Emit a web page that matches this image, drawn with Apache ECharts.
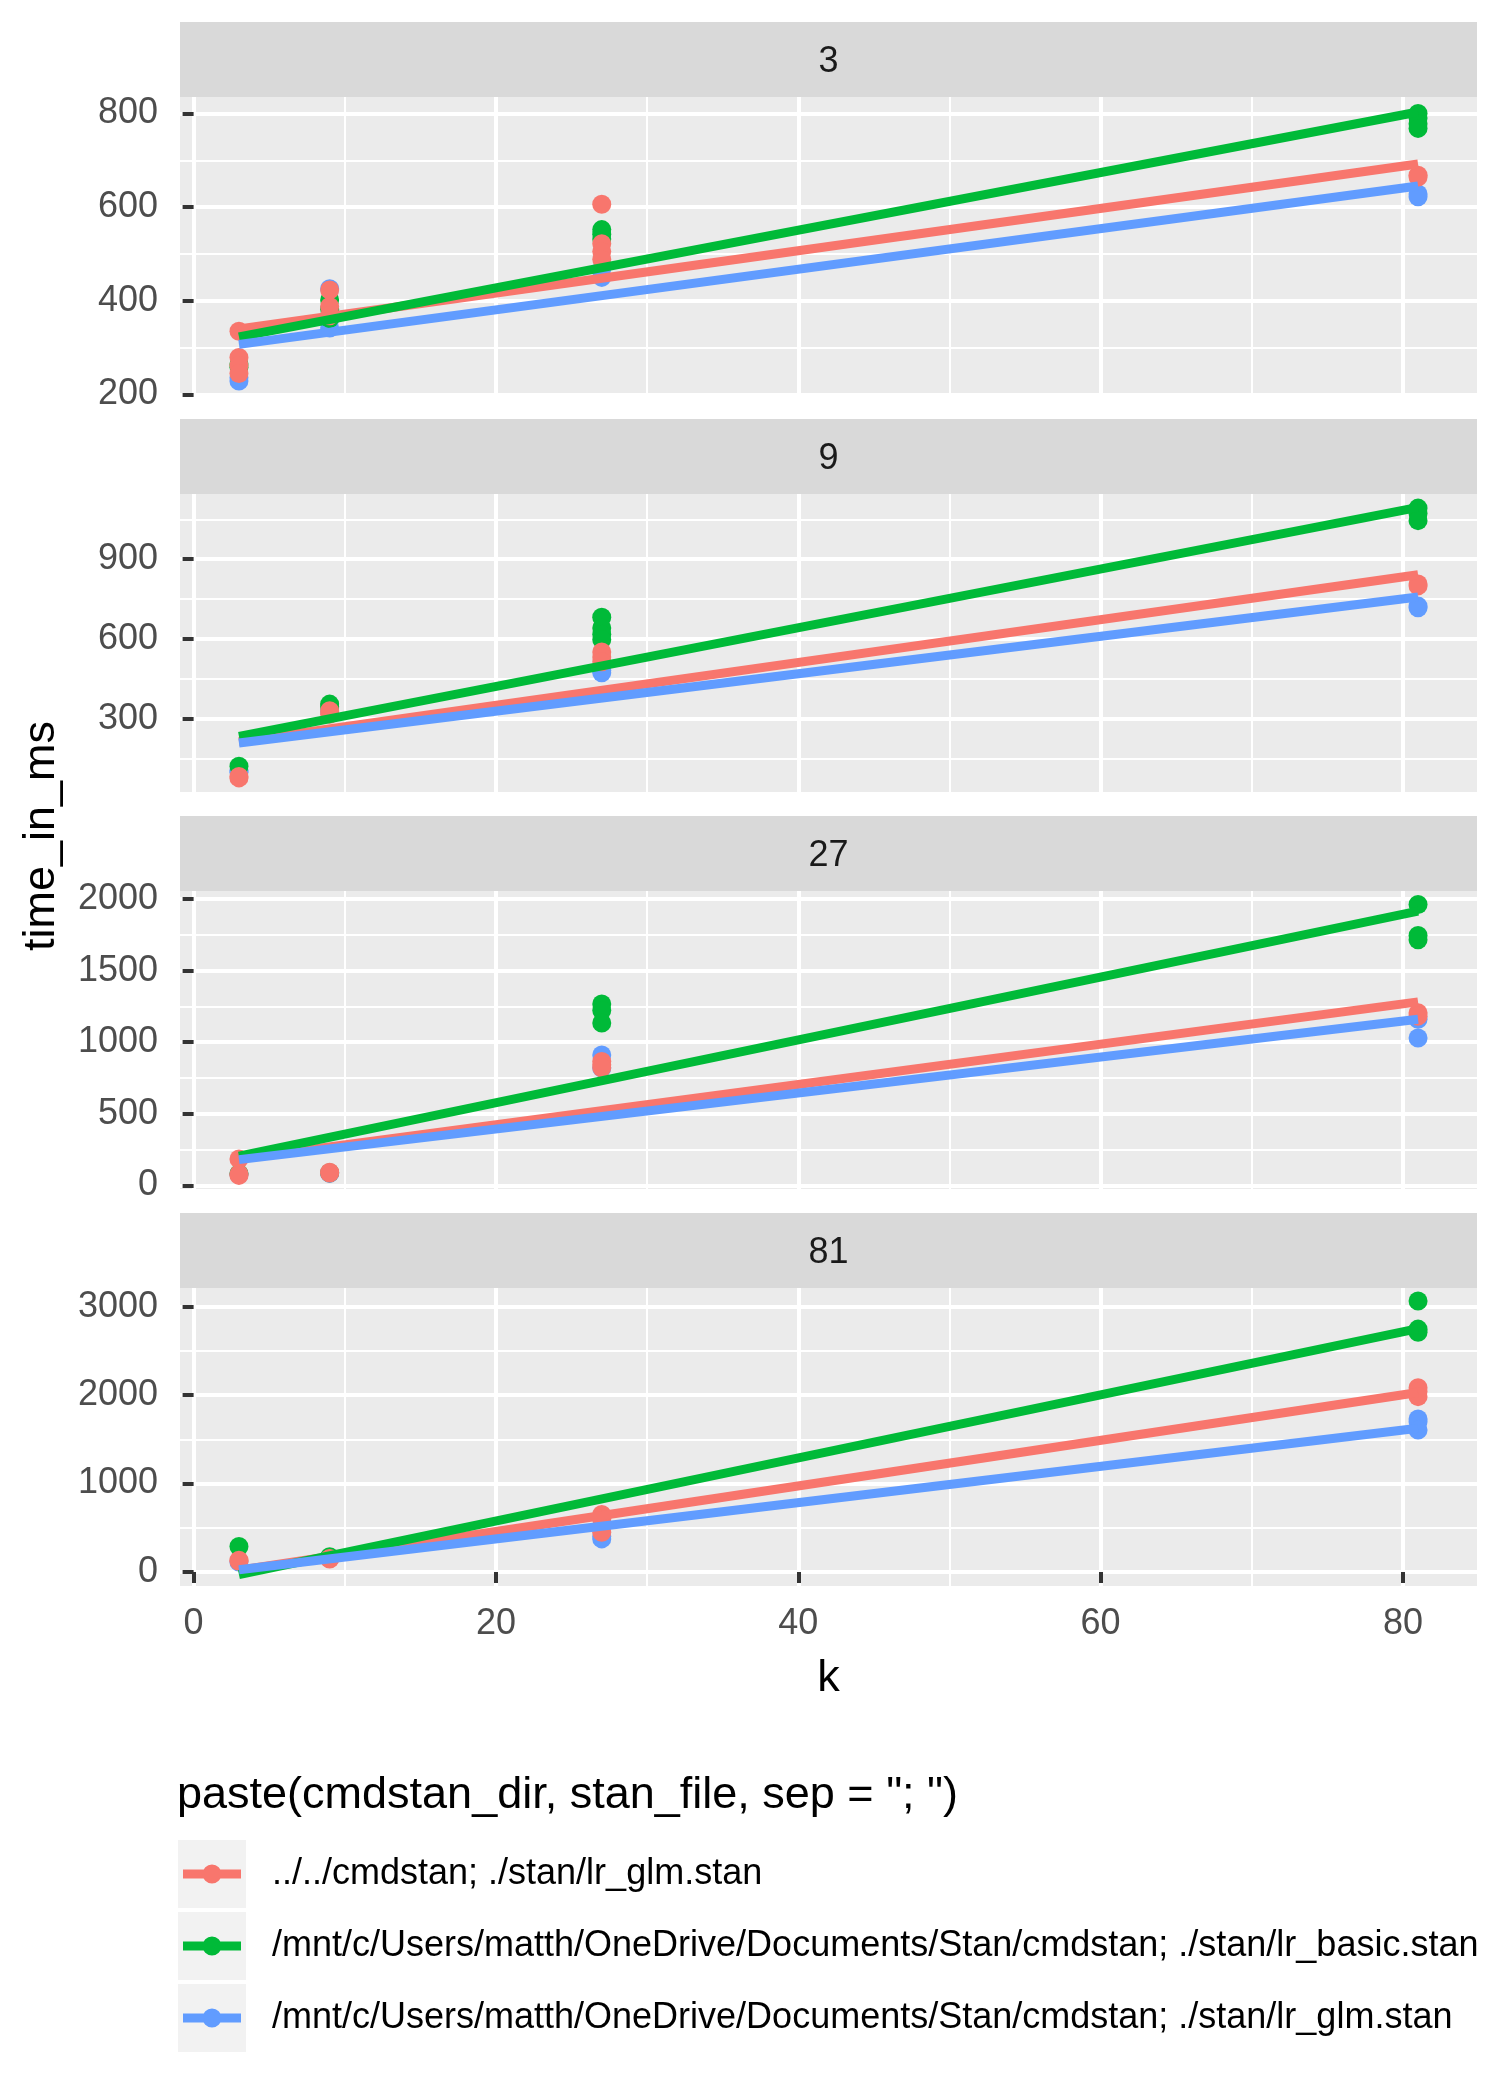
<!DOCTYPE html>
<html>
<head>
<meta charset="utf-8">
<title>time_in_ms by k</title>
<script src="https://cdn.jsdelivr.net/npm/echarts@6.0.0/dist/echarts.min.js"></script>
<style>
html, body { margin: 0; padding: 0; background: #ffffff; }
#chart { width: 1500px; height: 2100px; }
</style>
</head>
<body>
<div id="chart"></div>
<script>
var FONT = '"Liberation Sans", Arial, Helvetica, sans-serif';

// facets and groups
var facets = ['3', '9', '27', '81'];
var groupNames = [
    '../../cmdstan; ./stan/lr_glm.stan',
    '/mnt/c/Users/matth/OneDrive/Documents/Stan/cmdstan; ./stan/lr_basic.stan',
    '/mnt/c/Users/matth/OneDrive/Documents/Stan/cmdstan; ./stan/lr_glm.stan'
];
var groupColors = ['#F8766D', '#00BA38', '#619CFF'];
var kValues = [3, 9, 27, 81];
var fitK = [3, 81];

// measured points, one list per k value (facet 3)
var f3Local = [[335, 279, 262, 245], [423, 388, 368], [606, 522, 505, 488], [668, 664]];
var f3Basic = [[265, 258], [402, 382, 362], [552, 542, 532], [800, 790, 778, 768]];
var f3Glm   = [[236, 229], [426, 360, 342], [468, 450], [628, 622]];
// facet 9
var f9Local = [[79, 84], [331, 318], [552, 533, 515], [807, 800]];
var f9Basic = [[123], [356, 346], [682, 642, 618, 598], [1092, 1072, 1045]];
var f9Glm   = [[106, 100], [328], [474, 482], [724, 718]];
// facet 27
var f27Local = [[185, 80, 70], [86, 92], [865, 842, 822], [1205, 1182]];
var f27Basic = [[82], [88], [1267, 1222, 1134], [1962, 1746, 1715]];
var f27Glm   = [[76], [84], [911, 820], [1160, 1029]];
// facet 81
var f81Local = [[121, 132], [147, 152], [649, 600, 523, 448], [2083, 2040, 1983]];
var f81Basic = [[287], [171], [610], [3065, 2747, 2712]];
var f81Glm   = [[112], [160], [374, 400], [1731, 1700, 1605]];

// linear fit values at k = 3 and k = 81
var fit3  = [[340, 692], [323, 803], [307, 645]];
var fit9  = [[215, 842], [235, 1095], [210, 758]];
var fit27 = [[185, 1282], [205, 1915], [180, 1160]];
var fit81 = [[20, 2030], [-30, 2752], [25, 1625]];

// axes
var xMin = -0.9, xMax = 84.9;
var xTicks = [0, 20, 40, 60, 80];
var xMinor = [10, 30, 50, 70];
var yMin = [199, 26, -25, -159];
var yMax = [835, 1145, 2056, 3212];
var yTicks = [[200, 400, 600, 800], [300, 600, 900], [0, 500, 1000, 1500, 2000], [0, 1000, 2000, 3000]];
var yMinor = [[300, 500, 700], [150, 450, 750, 1050], [250, 750, 1250, 1750], [500, 1500, 2500]];

var points = [
    [f3Local, f3Basic, f3Glm],
    [f9Local, f9Basic, f9Glm],
    [f27Local, f27Basic, f27Glm],
    [f81Local, f81Basic, f81Glm]
];
var fits = [fit3, fit9, fit27, fit81];

// layout
var gridLeft = 180, gridWidth = 1297, gridHeight = 298, stripHeight = 75;
var gridTop = [97, 494, 891, 1288];

var chart = echarts.init(document.getElementById('chart'));

var grids = [], xAxes = [], yAxes = [], series = [], graphics = [];

facets.forEach(function (facet, i) {
    var last = i === facets.length - 1;
    grids.push({
        left: gridLeft, top: gridTop[i], width: gridWidth, height: gridHeight,
        show: true, backgroundColor: '#EBEBEB', borderWidth: 0,
        outerBoundsMode: 'none'
    });
    xAxes.push({
        type: 'value', gridIndex: i, min: xMin, max: xMax,
        axisLine: { show: false },
        axisTick: { show: last, customValues: xTicks, length: 11, lineStyle: { color: '#333333', width: 4 } },
        axisLabel: { show: last, customValues: xTicks, margin: 20, color: '#4D4D4D', fontSize: 36, fontFamily: FONT },
        splitLine: { show: true, lineStyle: { color: '#FFFFFF', width: 4 } },
        name: last ? 'k' : '',
        nameLocation: 'middle', nameGap: 70,
        nameTextStyle: { color: '#000000', fontSize: 45, fontFamily: FONT }
    });
    yAxes.push({
        type: 'value', gridIndex: i, min: yMin[i], max: yMax[i],
        axisLine: { show: false },
        axisTick: { show: true, customValues: yTicks[i], length: 11, lineStyle: { color: '#333333', width: 4 } },
        axisLabel: {
            customValues: yTicks[i], margin: 22, color: '#4D4D4D', fontSize: 36, fontFamily: FONT,
            padding: [6, 0, 0, 0],
            formatter: function (v) { return String(v); }
        },
        splitLine: { show: true, lineStyle: { color: '#FFFFFF', width: 4 } }
    });

    // points: blue, green, red (red drawn last, on top)
    [2, 1, 0].forEach(function (g, n) {
        var data = [];
        kValues.forEach(function (k, j) {
            points[i][g][j].forEach(function (v) { data.push([k, v]); });
        });
        var s = {
            name: groupNames[g], type: 'scatter',
            xAxisIndex: i, yAxisIndex: i,
            data: data, symbol: 'circle', symbolSize: 19,
            itemStyle: { color: groupColors[g], opacity: 1 },
            z: 2, silent: true
        };
        if (n === 0) {
            // minor grid lines
            s.markLine = {
                silent: true, z: 1, animation: false,
                symbol: ['none', 'none'],
                label: { show: false },
                emphasis: { disabled: true },
                lineStyle: { color: '#FFFFFF', width: 2, type: 'solid', opacity: 1 },
                data: yMinor[i].map(function (v) { return { yAxis: v }; })
                    .concat(xMinor.map(function (v) { return { xAxis: v }; }))
            };
        }
        series.push(s);
    });

    // fitted lines: red, green, blue
    [0, 1, 2].forEach(function (g) {
        series.push({
            name: groupNames[g], type: 'line',
            xAxisIndex: i, yAxisIndex: i,
            data: fitK.map(function (k, j) { return [k, fits[i][g][j]]; }),
            symbol: 'none', showSymbol: false,
            lineStyle: { color: groupColors[g], width: 9, cap: 'butt' },
            itemStyle: { color: groupColors[g] },
            z: 3, silent: true
        });
    });

    // facet strip
    graphics.push({
        type: 'rect', silent: true,
        shape: { x: gridLeft, y: gridTop[i] - stripHeight, width: gridWidth, height: stripHeight },
        style: { fill: '#D9D9D9' }
    });
    graphics.push({
        type: 'text', silent: true,
        x: gridLeft + gridWidth / 2, y: gridTop[i] - stripHeight / 2 + 3,
        style: { text: facet, fill: '#1A1A1A', fontSize: 36, fontFamily: FONT, align: 'center', verticalAlign: 'middle' }
    });
});

// y axis title
graphics.push({
    type: 'text', silent: true, x: 42, y: 836, rotation: Math.PI / 2,
    style: { text: 'time_in_ms', fill: '#000000', fontSize: 45, fontFamily: FONT, align: 'center', verticalAlign: 'middle' }
});

// legend title and key backgrounds
graphics.push({
    type: 'text', silent: true, x: 177, y: 1796,
    style: { text: 'paste(cmdstan_dir, stan_file, sep = "; ")', fill: '#000000', fontSize: 45, fontFamily: FONT, align: 'left', verticalAlign: 'middle' }
});
var legendFirst = 1874, legendRow = 72;
groupNames.forEach(function (n, j) {
    graphics.push({
        type: 'rect', silent: true, z: -1,
        shape: { x: 178, y: legendFirst + j * legendRow - 34, width: 68, height: 68 },
        style: { fill: '#F2F2F2' }
    });
});

// line-with-dot key
var keyIcon = 'path://M0,5 L21,5 L21,14 L0,14 Z M37,5 L58,5 L58,14 L37,14 Z ' +
    'M19.5,9.5 A9.5,9.5 0 1,1 38.5,9.5 A9.5,9.5 0 1,1 19.5,9.5 Z';

var option = {
    animation: false,
    backgroundColor: '#FFFFFF',
    textStyle: { fontFamily: FONT },
    grid: grids,
    xAxis: xAxes,
    yAxis: yAxes,
    legend: {
        data: groupNames,
        orient: 'vertical',
        left: 183, top: legendFirst - 23,
        padding: 0,
        itemGap: legendRow - 46,
        itemWidth: 58, itemHeight: 19,
        icon: keyIcon,
        selectedMode: false,
        textStyle: { color: '#000000', fontSize: 36, lineHeight: 40, fontFamily: FONT, padding: [6, 0, 0, 26] }
    },
    graphic: graphics,
    series: series
};

chart.setOption(option);
</script>
</body>
</html>
